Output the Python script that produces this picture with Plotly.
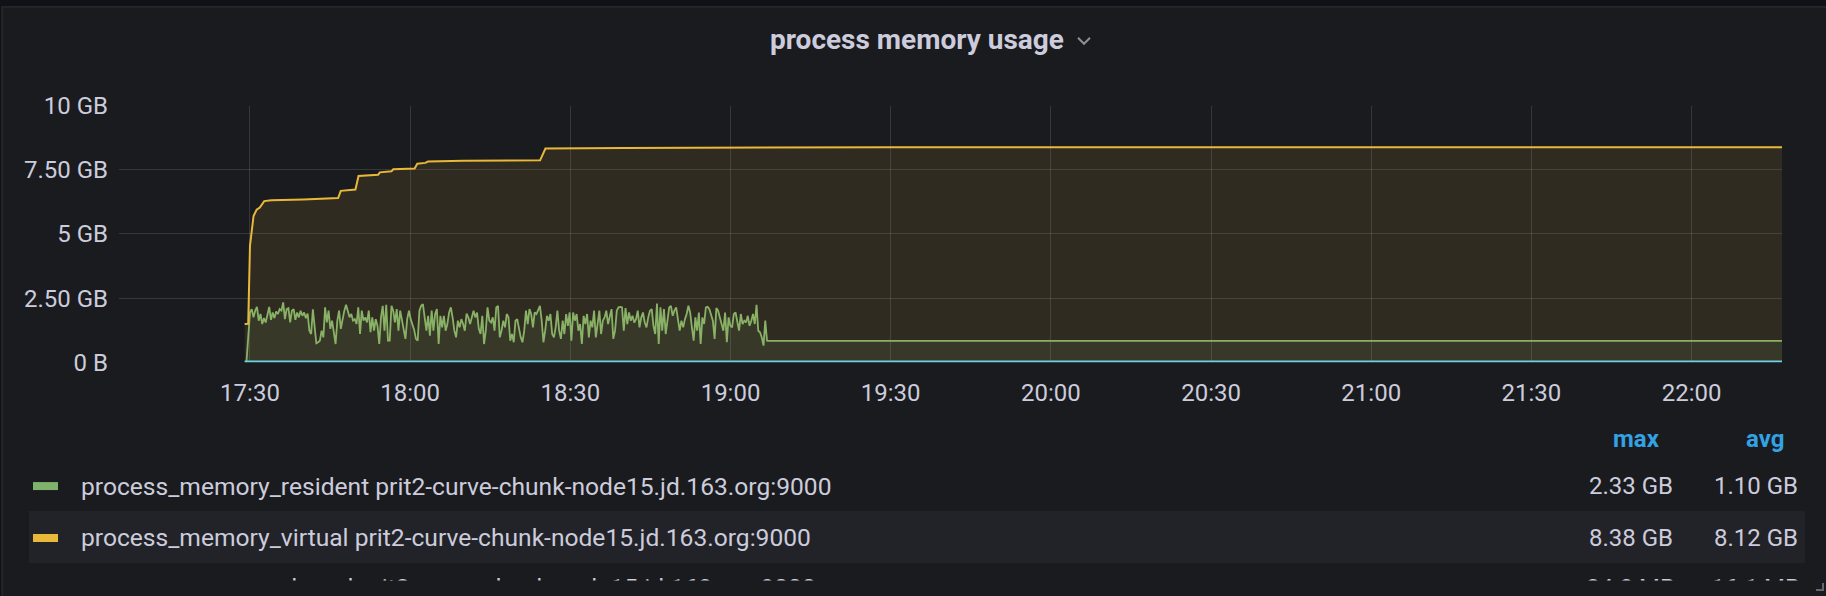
import pandas as pd
import plotly.graph_objects as go

DAY = "2021-06-10 "
W, H = 1826, 596

# ---------------- data (GB) ----------------
virtual_times = ["17:29:00", "17:29:40", "17:30:00", "17:30:40", "17:31:15", "17:31:50", "17:32:40",
                 "17:34:00", "17:40:00", "17:46:30", "17:47:00", "17:49:45", "17:50:20", "17:54:00",
                 "17:54:20", "17:56:30", "17:56:50", "18:00:50", "18:01:20", "18:02:50", "18:03:20",
                 "18:10:00", "18:24:20", "18:25:20", "18:40:00", "19:00:00", "19:30:00", "22:17:00"]
virtual_vals = [1.49, 1.50, 4.55, 5.70, 5.95, 6.03, 6.28,
                6.31, 6.34, 6.40, 6.68, 6.73, 7.26, 7.31,
                7.40, 7.44, 7.52, 7.55, 7.74, 7.77, 7.82,
                7.85, 7.87, 8.33, 8.35, 8.37, 8.38, 8.38]

resident_start_time = "17:29:20"
resident_start_val = 0.0
resident_noisy_start = "17:30:00"
resident_noisy_end = "19:06:50"
resident_noisy = [
    1.94, 2.07, 1.75, 2.01, 2.16, 1.62, 1.88, 1.49, 1.72, 1.55, 1.88, 2.16, 1.65, 1.94, 1.72, 1.98,
    1.88, 2.07, 2.01, 2.33, 1.68, 2.07, 2.11, 1.55, 2.01, 2.07, 1.65, 1.94, 1.75, 2.01, 1.81, 1.94,
    1.72, 1.90, 1.23, 1.10, 2.06, 1.49, 0.74, 0.78, 0.84, 1.23, 0.97, 2.14, 1.55, 2.01, 1.30, 1.62,
    1.10, 0.71, 1.62, 2.01, 1.30, 1.75, 2.01, 2.24, 2.01, 1.75, 1.88, 1.62, 1.68, 1.49, 2.14, 1.10,
    2.01, 1.62, 1.75, 1.55, 2.01, 1.17, 1.75, 1.23, 1.68, 1.42, 0.71, 1.75, 2.20, 1.23, 2.24, 0.84,
    0.84, 2.20, 2.01, 1.55, 2.07, 1.23, 2.01, 1.68, 1.23, 0.91, 1.68, 2.01, 1.68, 1.49, 1.26, 0.91,
    0.84, 2.01, 2.20, 2.27, 1.81, 1.23, 1.81, 1.04, 2.01, 1.23, 1.88, 2.07, 0.71, 1.81, 1.36, 1.81,
    1.23, 1.49, 1.94, 2.14, 1.75, 1.23, 0.97, 1.62, 1.36, 1.68, 1.49, 1.23, 1.90, 1.75, 1.49, 1.81,
    2.01, 1.75, 1.94, 1.30, 1.10, 1.81, 0.71, 1.23, 2.14, 1.62, 1.55, 1.75, 1.23, 2.14, 2.20, 0.97,
    1.23, 1.62, 1.36, 1.88, 1.75, 0.84, 1.10, 0.78,
    1.62, 1.68, 1.23, 0.97, 0.78, 1.23, 2.01, 1.49, 2.07, 1.88, 1.36, 1.94, 1.88, 2.01, 2.20, 1.62,
    0.78, 1.23, 1.81, 1.62, 1.88, 1.10, 0.97, 1.36, 2.01, 1.23, 0.91, 1.62, 1.10, 1.88, 1.42, 1.94,
    0.84, 1.94, 1.62, 1.88, 1.23, 1.49, 0.71, 1.81, 1.49, 1.88, 0.97, 1.62, 1.36, 2.01, 0.97, 1.49,
    2.01, 1.10, 1.62, 1.75, 2.01, 1.49, 1.81, 2.07, 0.91, 1.23, 2.01, 2.14, 2.16, 2.14, 1.23, 2.11,
    1.49, 1.94, 1.62, 1.81, 1.55, 1.68, 2.01, 1.36, 1.75, 1.94, 1.55, 1.36, 1.75, 2.01, 2.07, 1.42,
    1.10, 2.29, 0.71, 2.14, 1.23, 2.07, 1.10, 1.75, 2.14, 2.20, 1.81, 2.01, 2.14, 1.68, 1.23, 1.62,
    1.36, 1.68, 1.88, 2.20, 1.94, 1.36, 0.84, 1.75, 1.23, 1.94, 0.71, 1.75, 1.49, 2.14, 2.16, 2.07,
    1.81, 1.62, 0.91, 2.11, 2.01, 1.75, 1.49, 1.23, 1.94, 0.78, 1.75, 1.42, 1.36, 1.88, 1.94, 1.49,
    1.23, 1.88, 1.49, 1.62, 1.55, 1.81, 1.42, 1.62, 1.88, 1.49, 2.24, 1.23, 1.17, 0.97, 0.65, 1.62,
    0.84,
]
resident_tail_times = ["19:07:00", "22:17:00"]
resident_tail_vals = [0.83, 0.83]

shared_times = ["17:29:00", "18:33:00", "18:33:30", "22:17:00"]
shared_vals = [0.0243, 0.0243, 0.016, 0.016]

y_tickvals = [0, 2.5, 5, 7.5, 10]
y_ticktext = ["0 B", "2.50 GB", "5 GB", "7.50 GB", "10 GB"]
x_range = ["17:05:28", "22:16:56"]

title = "process memory usage"
legend_names = ["process_memory_resident prit2-curve-chunk-node15.jd.163.org:9000",
                "process_memory_virtual prit2-curve-chunk-node15.jd.163.org:9000",
                "process_memory_shared prit2-curve-chunk-node15.jd.163.org:9000"]
legend_max = ["2.33 GB", "8.38 GB", "24.3 MB"]
legend_avg = ["1.10 GB", "8.12 GB", "16.1 MB"]
colors = ["#7EB26D", "#EAB839", "#6ED0E0"]

# ---------------- build ----------------
noisy_t = pd.date_range(DAY + resident_noisy_start, DAY + resident_noisy_end, periods=len(resident_noisy))
res_x = [pd.Timestamp(DAY + resident_start_time)] + list(noisy_t) + [pd.Timestamp(DAY + t) for t in resident_tail_times]
res_y = [resident_start_val] + resident_noisy + resident_tail_vals

TXT = "#ccccdc"
FONT = "Roboto"
FS = 24
FS_LEG = 24.6


def sy(y):
    # vertical pixel placement (compensates the capture's vertical mapping)
    return (y - 13.2) / 0.9545


# plot area in pixels
PL, PR = 119, 1782
PT, PB = sy(105), sy(362)
CLIP = sy(580.5)

fig = go.Figure()
fig.add_trace(go.Scatter(x=res_x, y=res_y, mode="lines", line=dict(color=colors[0], width=1.8),
                         fill="tozeroy", fillcolor="rgba(126,178,109,0.10)", xaxis="x", yaxis="y"))
fig.add_trace(go.Scatter(x=[DAY + t for t in virtual_times], y=virtual_vals, mode="lines",
                         line=dict(color=colors[1], width=2), fill="tozeroy",
                         fillcolor="rgba(234,184,57,0.10)", xaxis="x", yaxis="y"))
fig.add_trace(go.Scatter(x=[DAY + t for t in shared_times], y=shared_vals, mode="lines",
                         line=dict(color=colors[2], width=2.5), xaxis="x", yaxis="y", cliponaxis=False))

# legend row 3 (clipped by the legend viewport)
fig.add_trace(go.Scatter(x=[79], y=[sy(590)], mode="text", text=[legend_names[2]], textposition="middle right",
                         textfont=dict(family=FONT, size=FS_LEG, color=TXT), xaxis="x2", yaxis="y2", cliponaxis=True))
fig.add_trace(go.Scatter(x=[1675, 1800], y=[sy(590), sy(590)], mode="text", text=[legend_max[2], legend_avg[2]],
                         textposition="middle left", textfont=dict(family=FONT, size=FS, color=TXT),
                         xaxis="x2", yaxis="y2", cliponaxis=True))


def py(y):
    return 1 - sy(y) / H


shapes = [
    # panel
    dict(type="rect", xref="paper", yref="paper", x0=2 / W, x1=1.01, y0=-0.05, y1=py(6),
         fillcolor="#1a1b1f", line=dict(color="rgba(204,204,220,0.10)", width=1.5), layer="below"),
    # highlighted legend row
    dict(type="rect", xref="paper", yref="paper", x0=29 / W, x1=1805 / W, y0=py(563), y1=py(511),
         fillcolor="#222328", line=dict(width=0), layer="below"),
    # legend markers
    dict(type="rect", xref="x2", yref="y2", x0=33, x1=58, y0=sy(482), y1=sy(490), fillcolor=colors[0], line=dict(width=0)),
    dict(type="rect", xref="x2", yref="y2", x0=33, x1=58, y0=sy(534), y1=sy(542), fillcolor=colors[1], line=dict(width=0)),
    # title chevron
    dict(type="path", xref="x2", yref="y2", path=f"M 1078 {sy(37)} L 1084 {sy(43)} L 1090 {sy(37)}",
         line=dict(color="#8e8e99", width=2)),
    # resize handle
    dict(type="path", xref="paper", yref="paper",
         path=f"M {1816/W} {py(590)} L {1823/W} {py(590)} L {1823/W} {py(583)}",
         line=dict(color="#666670", width=2)),
]

ann = [
    dict(x=917, y=sy(39), text=f"<b>{title}</b>", showarrow=False, xanchor="center", yanchor="middle",
         font=dict(family=FONT, size=28, color=TXT)),
    dict(x=1636, y=sy(439), text="<b>max</b>", showarrow=False, xanchor="center", yanchor="middle",
         font=dict(family=FONT, size=FS, color="#33a2e5")),
    dict(x=1765, y=sy(439), text="<b>avg</b>", showarrow=False, xanchor="center", yanchor="middle",
         font=dict(family=FONT, size=FS, color="#33a2e5")),
]
for i, yy in enumerate([486, 538]):
    ann.append(dict(x=79, y=sy(yy), text=legend_names[i], showarrow=False, xanchor="left", yanchor="middle",
                    font=dict(family=FONT, size=FS_LEG, color=TXT)))
    ann.append(dict(x=1675, y=sy(yy), text=legend_max[i], showarrow=False, xanchor="right", yanchor="middle",
                    font=dict(family=FONT, size=FS, color=TXT)))
    ann.append(dict(x=1800, y=sy(yy), text=legend_avg[i], showarrow=False, xanchor="right", yanchor="middle",
                    font=dict(family=FONT, size=FS, color=TXT)))
for a in ann:
    a["xref"] = "x2"
    a["yref"] = "y2"

GRID = "rgba(204,204,220,0.16)"
fig.update_layout(
    width=W, height=H, margin=dict(l=0, r=0, t=0, b=0),
    paper_bgcolor="#111217", plot_bgcolor="rgba(0,0,0,0)",
    showlegend=False, font=dict(family=FONT, size=FS, color=TXT),
    xaxis=dict(domain=[PL / W, PR / W], anchor="y", type="date",
               range=[DAY + x_range[0], DAY + x_range[1]],
               tick0=DAY + "17:30:00", dtick=1800000, tickformat="%H:%M",
               showgrid=True, gridcolor=GRID, gridwidth=1.3, zeroline=False, showline=False,
               ticks="", ticklabelstandoff=14, tickfont=dict(family=FONT, size=FS, color=TXT)),
    yaxis=dict(domain=[1 - PB / H, 1 - PT / H], anchor="x", range=[0, 10],
               tickvals=y_tickvals, ticktext=y_ticktext,
               showgrid=True, gridcolor=GRID, gridwidth=1.3, zeroline=False, showline=False,
               ticks="", ticklabelstandoff=10, tickfont=dict(family=FONT, size=FS, color=TXT)),
    xaxis2=dict(domain=[0, 1], anchor="y2", range=[0, W], visible=False, fixedrange=True),
    yaxis2=dict(domain=[1 - CLIP / H, 1], anchor="x2", range=[CLIP, 0], visible=False, fixedrange=True),
    shapes=shapes, annotations=ann,
)

post = ("document.documentElement.style.background='#111217';"
        "document.body.style.margin='0';document.body.style.background='#111217';"
        "document.body.style.overflow='hidden';")
fig.write_html("out.html", config={"displayModeBar": False}, post_script=post)
